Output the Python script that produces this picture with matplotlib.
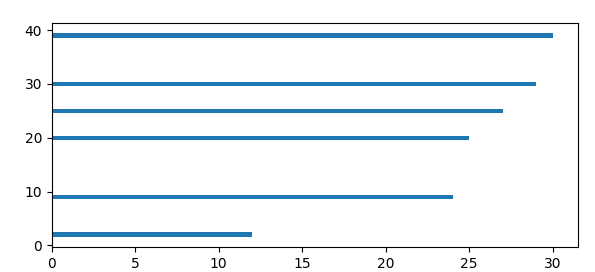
import matplotlib
matplotlib.use("Agg")
import matplotlib.pyplot as plt

positions = [2, 9, 20, 25, 30, 39]
widths = [12, 24, 25, 27, 29, 30]

fig, ax = plt.subplots(figsize=(5.95, 2.72), dpi=100)
fig.subplots_adjust(left=0.087, right=0.971, top=0.915, bottom=0.092)
ax.barh(positions, widths)
fig.savefig("out.png")
